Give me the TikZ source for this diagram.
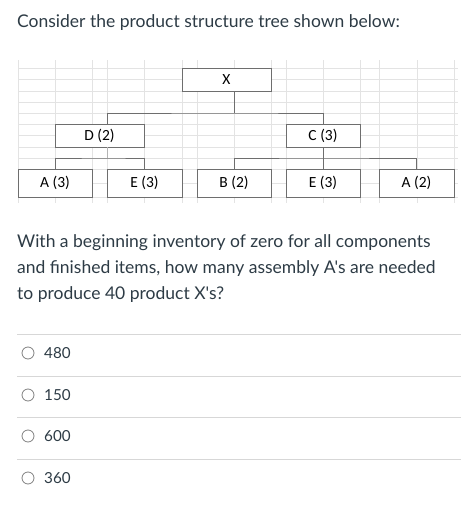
\documentclass[tikz,border=0pt]{standalone}
\usepackage{fontspec}
\setmainfont{Lato}
\newfontfamily\qfont{Lato}
\newfontfamily\boxfont{Carlito}
\usepackage{tikz}

\definecolor{canvastext}{HTML}{2D3B45}
\definecolor{gridgray}{HTML}{E3E3E3}
\definecolor{linegray}{HTML}{6E6E6E}
\definecolor{rulegray}{HTML}{D7D7D7}

\tikzset{
  part/.style={draw=linegray, line width=0.9pt, fill=white, minimum height=23pt,
    inner sep=0pt, font=\boxfont\fontsize{15.5}{15.5}\selectfont},
  leaf/.style={part, minimum height=28pt},
  conn/.style={draw=linegray, line width=0.9pt},
  gridline/.style={draw=gridgray, line width=0.7pt},
  qtext/.style={anchor=base west, inner sep=0pt, text=canvastext,
    font=\qfont\fontsize{17.5}{20}\selectfont},
  choice/.style={qtext, font=\qfont\fontsize{15.2}{18}\selectfont},
  radio/.style={circle, draw=gray, line width=0.8pt, minimum size=12pt, inner sep=0pt},
}

\begin{document}
\begin{tikzpicture}[x=1pt, y=-1pt]
    \useasboundingbox (0,0) rectangle (461,515);

    \node[qtext] (title) at (17,27) {Consider the product structure tree shown below:};

    % spreadsheet grid behind the tree
    \foreach \gx in {18,55,92,107,144,182,197,234,271,286,323,360,379,417,454}
      \draw[gridline] (\gx,60) -- (\gx,203);
    \foreach \gy in {68,79.5,91,102,113,124,135.5,147,158,169,183,197}
      \draw[gridline] (18,\gy) -- (458,\gy);

    \node[part, minimum width=89pt] (x) at (226.5,79.5) {X};
    \node[part, minimum width=89pt] (d) at (99.5,135.5) {D (2)};
    \node[part, minimum width=74pt] (c) at (323,135.5) {C (3)};

    \node[leaf, minimum width=74pt] (a1) at (55,183) {A (3)};
    \node[leaf, minimum width=75pt] (e1) at (144.5,183) {E (3)};
    \node[leaf, minimum width=74pt] (b) at (234,183) {B (2)};
    \node[leaf, minimum width=74pt] (e2) at (323,183) {E (3)};
    \node[leaf, minimum width=75pt] (a2) at (416.5,183) {A (2)};

    \coordinate (xbar) at (234,113);
    \coordinate (dbar) at (107,158);
    \coordinate (cbar) at (323,158);

    \draw[conn] ([xshift=7.5pt]x.south) -- (xbar);
    \draw[conn] ([xshift=7.5pt]d.north) |- (xbar) -| (c.north);
    \draw[conn, draw=gridgray!60!linegray] ([xshift=7.5pt]d.south) -- (dbar);
    \draw[conn] (a1.north) |- (dbar) -| (e1.north);
    \draw[conn] (c.south) -- (cbar);
    \draw[conn] (b.north) |- (cbar) -| (a2.north);
    \draw[conn] (cbar) -- (e2.north);

    \node[qtext] (q1) at (17,247) {With a beginning inventory of zero for all components};
    \node[qtext] (q2) at (17,273) {and finished items, how many assembly A's are needed};
    \node[qtext] (q3) at (17,299) {to produce 40 product X's?};

    % answer choices
    \foreach \ya/\val [count=\i] in {353/480, 395/150, 436/600, 478/360} {
      \draw[rulegray, line width=0.8pt] (17,\ya-19) -- (461,\ya-19);
      \node[radio] (r\i) at (28,\ya) {};
      \node[choice] (v\i) at (44,\ya+5) {\val};
    }
\end{tikzpicture}
\end{document}
